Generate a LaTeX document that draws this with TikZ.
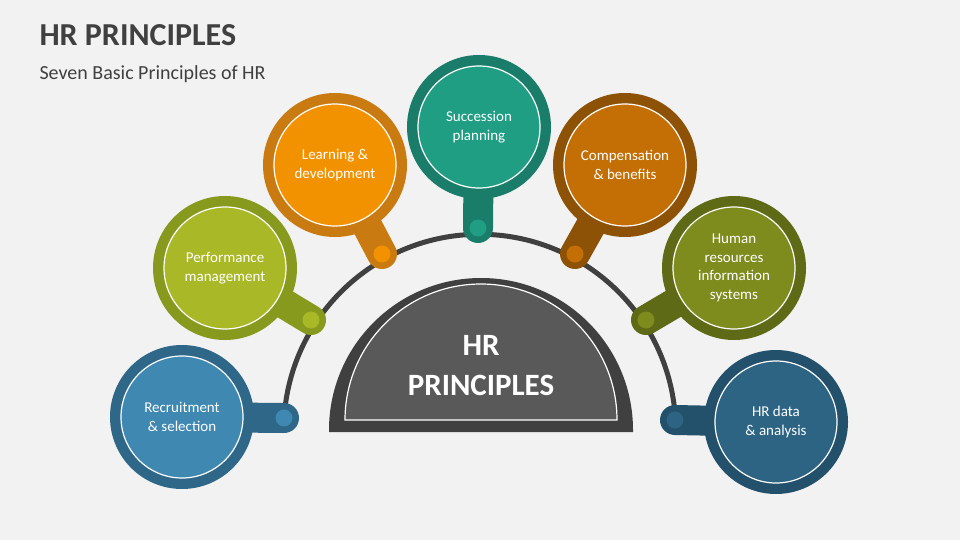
\documentclass[tikz,border=0pt]{standalone}
\usepackage{fontspec}
\setmainfont{Carlito}
\begin{document}
\begin{tikzpicture}[x=1pt,y=-1pt]
\definecolor{bg}{HTML}{F2F2F2}
\definecolor{arcc}{HTML}{404040}
\tikzset{lbl/.style={text=white,align=center,font=\fontsize{15}{18.5}\selectfont}}
\fill[bg] (0,0) rectangle (960,540);
\useasboundingbox (0,0) rectangle (960,540);
\node[anchor=west,text=arcc,font=\fontsize{32}{36}\selectfont\bfseries] (title) at (36,35) {HR PRINCIPLES};
\node[anchor=west,text=arcc,font=\fontsize{20}{24}\selectfont] (sub) at (36,74) {Seven Basic Principles of HR};
% big arc
\draw[arcc,line width=5pt] (284,420) arc[start angle=183,end angle=357,radius=196];
% dome
\fill[arcc] (329,432) -- (329,430) arc[start angle=180,end angle=360,radius=152] -- (633,432) -- cycle;
\fill[black!65] (345,420) arc[start angle=180,end angle=360,radius=136] -- cycle;
\draw[white,line width=1.2pt] (345,420) arc[start angle=180,end angle=360,radius=136] -- cycle;
\node[text=white,align=center,font=\fontsize{31}{40}\selectfont\bfseries] (hr) at (481,366) {HR\\PRINCIPLES};
% pins
\newcommand{\pin}[7]{%
 \definecolor{dk}{HTML}{#5}\definecolor{lt}{HTML}{#6}%
 \coordinate (c#7) at (#1,#2);\coordinate (d#7) at (#3,#4);
 \draw[dk,line width=30pt,line cap=round] (c#7) -- (d#7);
 \fill[dk] (c#7) circle[radius=72];
 \fill[lt,draw=white,line width=1.2pt] (c#7) circle[radius=61];
 \fill[lt] (d#7) circle[radius=8.5];
}
\pin{182}{417}{284}{418}{2E6787}{3F88B2}{1}
\node[lbl] (t1) at (c1) {Recruitment\\\& selection};
\pin{225}{268}{311}{320}{879A1E}{A9B826}{2}
\node[lbl] (t2) at (c2) {Performance\\management};
\pin{335}{165}{382}{254}{C97A10}{F39200}{3}
\node[lbl] (t3) at (c3) {Learning \&\\development};
\pin{479}{127}{478}{228}{197D6A}{1F9E84}{4}
\node[lbl] (t4) at (c4) {Succession\\planning};
\pin{625}{165}{575}{254}{8E5206}{C46E06}{5}
\node[lbl] (t5) at (c5) {Compensation\\\& benefits};
\pin{734}{268}{646}{320}{5E6A15}{7D8C1D}{6}
\node[lbl] (t6) at (c6) {Human\\resources\\information\\systems};
\pin{776}{422}{675}{420}{23506A}{2D6484}{7}
\node[lbl] (t7) at (c7) {HR data\\\& analysis};
\end{tikzpicture}
\end{document}
